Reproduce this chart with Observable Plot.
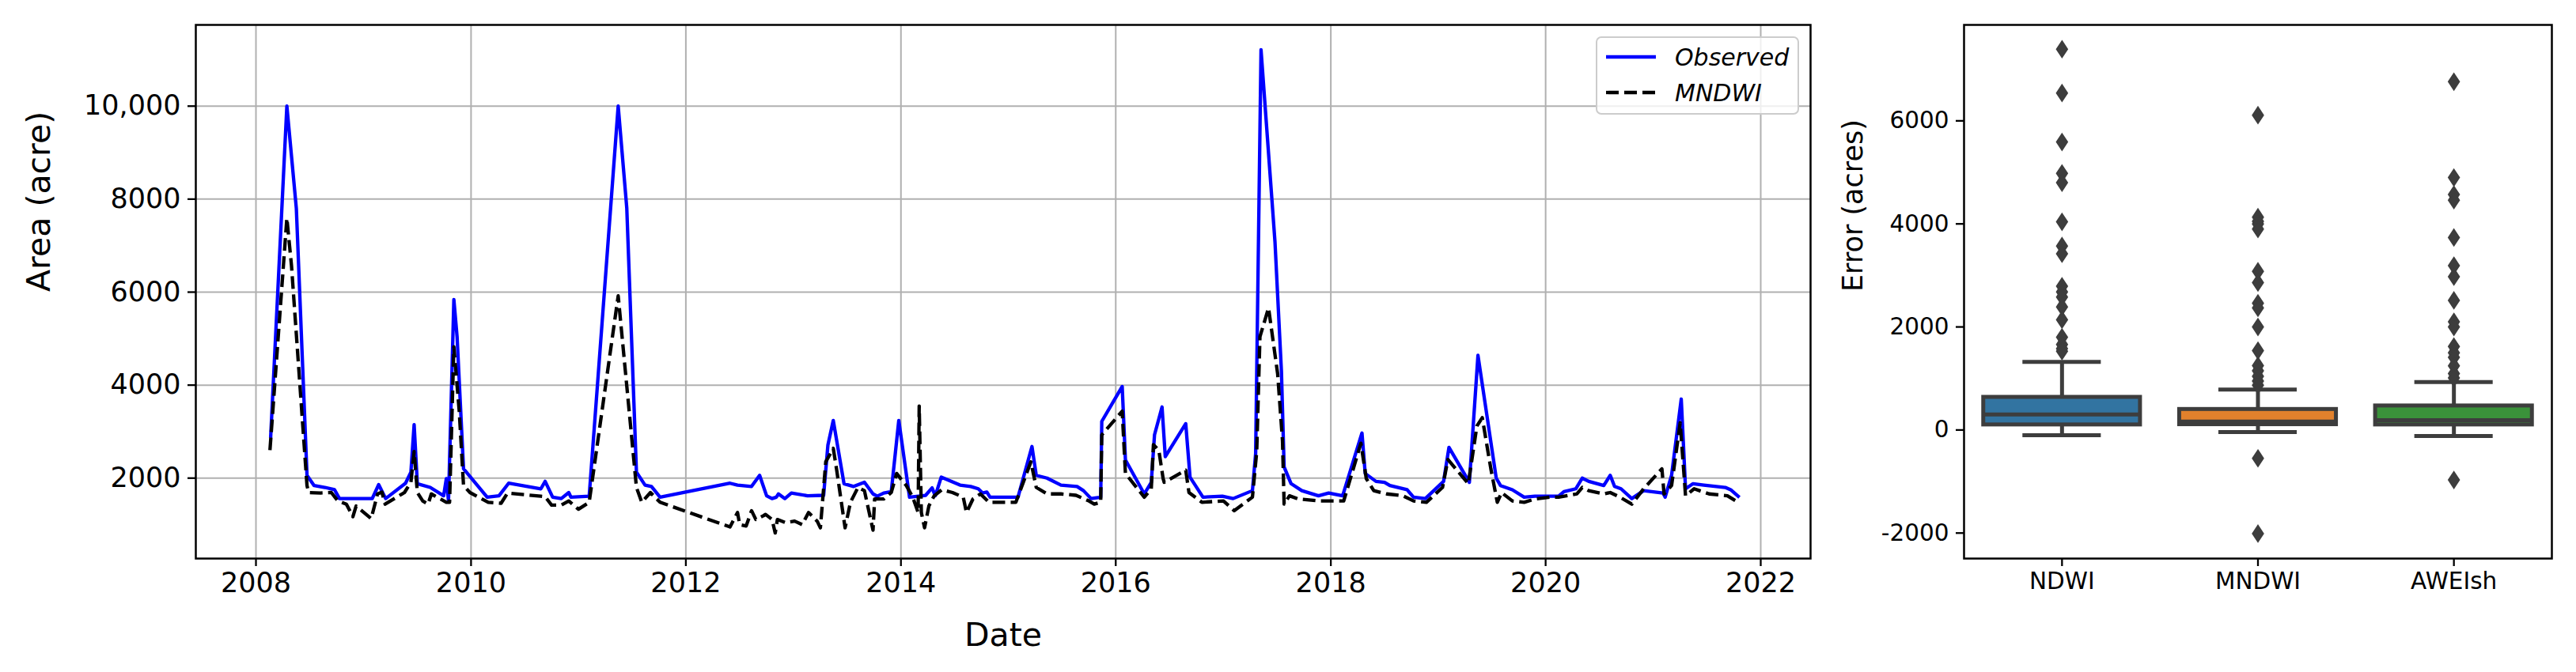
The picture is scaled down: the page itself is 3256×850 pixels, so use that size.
<!DOCTYPE html>
<html><head><meta charset="utf-8">
<script src="https://cdn.jsdelivr.net/npm/d3@7"></script>
<script src="https://cdn.jsdelivr.net/npm/@observablehq/plot@0.6"></script>
<style>
html,body{margin:0;padding:0;background:#fff;}
#wrap{position:relative;width:3256px;height:850px;overflow:hidden;font-family:"DejaVu Sans",sans-serif;background:#fff;}
#left{position:absolute;left:0;top:0;}
#right{position:absolute;left:2300px;top:0;}
#legend{position:absolute;left:2017px;top:46px;}
</style></head><body>
<div id="wrap"><div id="left"></div><div id="right"></div><svg id="legend" width="258" height="100"></svg></div>
<script>
// ---------- Left panel data (decimal year, area in acres) ----------
const seriesNames = ["Observed", "MNDWI"];
const obsYears = [2008.137,2008.287,2008.375,2008.474,2008.54,2008.64,2008.73,2008.775,2009.08,2009.14,2009.205,2009.39,2009.44,2009.47,2009.50,2009.62,2009.745,2009.77,2009.79,2009.84,2009.87,2009.93,2010.15,2010.26,2010.35,2010.65,2010.69,2010.76,2010.84,2010.91,2010.93,2011.10,2011.37,2011.45,2011.54,2011.62,2011.68,2011.76,2012.41,2012.48,2012.61,2012.685,2012.75,2012.80,2012.84,2012.86,2012.92,2012.98,2013.13,2013.28,2013.32,2013.37,2013.47,2013.56,2013.66,2013.74,2013.78,2013.84,2013.91,2013.98,2014.08,2014.23,2014.29,2014.32,2014.375,2014.55,2014.65,2014.72,2014.76,2014.80,2014.83,2015.09,2015.22,2015.26,2015.36,2015.49,2015.64,2015.70,2015.77,2015.86,2015.87,2016.06,2016.09,2016.265,2016.33,2016.36,2016.43,2016.46,2016.65,2016.69,2016.81,2016.99,2017.09,2017.27,2017.30,2017.35,2017.48,2017.54,2017.565,2017.63,2017.73,2017.885,2017.98,2018.11,2018.29,2018.32,2018.42,2018.50,2018.55,2018.71,2018.77,2018.88,2019.05,2019.10,2019.29,2019.37,2019.54,2019.58,2019.69,2019.80,2019.90,2020.04,2020.12,2020.17,2020.28,2020.34,2020.40,2020.54,2020.60,2020.64,2020.70,2020.80,2020.91,2021.09,2021.11,2021.17,2021.26,2021.30,2021.37,2021.47,2021.67,2021.72,2021.79];
const obsArea = [2900,10000,7800,2060,1840,1800,1750,1560,1560,1860,1560,1890,2130,3150,1880,1800,1620,1990,1510,5840,5040,2200,1590,1620,1890,1770,1930,1590,1560,1690,1590,1610,10000,7810,2130,1850,1820,1590,1890,1850,1820,2060,1620,1560,1590,1660,1560,1680,1620,1630,2710,3240,1880,1820,1910,1660,1610,1680,1710,3240,1590,1630,1790,1620,2020,1850,1820,1770,1680,1700,1590,1590,2680,2060,2000,1850,1820,1730,1560,1590,3220,3970,2390,1660,1910,2930,3530,2460,3170,2020,1590,1610,1560,1730,2530,11215,7080,4300,2240,1880,1730,1620,1680,1620,2970,2100,1930,1910,1840,1750,1590,1560,1930,2660,1910,4640,2000,1840,1750,1590,1610,1610,1610,1710,1770,2000,1930,1840,2060,1820,1770,1560,1730,1680,1590,2060,3700,1770,1880,1850,1800,1750,1610];
const mndwiYears = [2008.13,2008.287,2008.33,2008.474,2008.49,2008.60,2008.70,2008.76,2008.84,2008.90,2008.93,2009.07,2009.13,2009.17,2009.20,2009.38,2009.44,2009.47,2009.50,2009.55,2009.60,2009.63,2009.77,2009.80,2009.84,2009.89,2009.93,2009.99,2010.16,2010.28,2010.34,2010.65,2010.69,2010.75,2010.84,2010.91,2011.00,2011.10,2011.37,2011.54,2011.59,2011.67,2011.76,2012.41,2012.48,2012.50,2012.56,2012.61,2012.65,2012.72,2012.74,2012.80,2012.83,2012.85,2012.93,2013.01,2013.08,2013.14,2013.22,2013.25,2013.30,2013.37,2013.40,2013.48,2013.53,2013.60,2013.66,2013.74,2013.755,2013.84,2013.91,2013.96,2014.00,2014.05,2014.11,2014.16,2014.17,2014.19,2014.22,2014.26,2014.31,2014.38,2014.48,2014.58,2014.61,2014.67,2014.74,2014.82,2015.07,2015.21,2015.26,2015.36,2015.49,2015.63,2015.75,2015.80,2015.86,2015.87,2016.06,2016.09,2016.265,2016.33,2016.35,2016.40,2016.44,2016.45,2016.65,2016.68,2016.80,2017.00,2017.10,2017.27,2017.31,2017.34,2017.42,2017.505,2017.55,2017.565,2017.615,2017.70,2017.885,2017.98,2018.12,2018.28,2018.33,2018.40,2018.52,2018.67,2018.77,2018.89,2019.04,2019.09,2019.28,2019.36,2019.41,2019.49,2019.55,2019.59,2019.69,2019.80,2019.90,2020.04,2020.12,2020.29,2020.34,2020.40,2020.54,2020.60,2020.69,2020.80,2020.91,2021.08,2021.10,2021.17,2021.25,2021.30,2021.38,2021.52,2021.69,2021.79];
const mndwiArea = [2600,7590,6570,1840,1690,1680,1690,1510,1440,1170,1400,1130,1660,1700,1440,1690,1910,2570,1690,1510,1440,1660,1480,1480,4825,3440,1840,1690,1480,1460,1680,1610,1600,1420,1420,1510,1330,1480,5920,1800,1480,1690,1480,950,1260,1000,970,1300,1110,1190,1220,1110,820,1110,1040,1075,1000,1260,1075,930,2350,2640,2200,930,1480,1800,1730,880,1550,1550,1690,2100,1980,1840,1590,1260,3550,1260,930,1400,1620,1750,1690,1590,1260,1550,1660,1480,1480,2350,1800,1660,1660,1630,1510,1440,1480,2930,3440,2100,1590,1770,2720,2600,1990,1910,2170,1690,1480,1510,1300,1590,2570,5040,5660,4240,2800,1440,1620,1550,1510,1510,1510,2750,1990,1730,1660,1620,1510,1480,1800,2400,1880,3120,3300,2200,1480,1690,1510,1480,1550,1590,1590,1660,1800,1730,1660,1690,1590,1440,1770,2200,1660,1840,3190,1620,1770,1660,1620,1480];
const xTickYears = [2008,2010,2012,2014,2016,2018,2020,2022];
const yTicksLeft = [2000,4000,6000,8000,10000];

// ---------- Right panel data (error in acres) ----------
const boxCategories = ["NDWI","MNDWI","AWEIsh"];
const boxColors = ["#3274a1","#e1812c","#3a923a"];
const boxQ1 = [100,105,100];
const boxMedian = [300,165,190];
const boxQ3 = [635,400,468];
const whiskerLow = [-100,-40,-115];
const whiskerHigh = [1320,785,930];
const outliersNDWI = [7390,6540,5590,4980,4800,4040,3570,3420,2790,2680,2580,2390,2140,1800,1660,1580,1530];
const outliersMNDWI = [6110,4130,4050,4000,3900,3080,2860,2460,2370,2000,1540,1250,1150,1040,950,870,-550,-2010];
const outliersAWEIsh = [6760,4900,4570,4460,3735,3190,2975,2515,2100,2000,1620,1500,1410,1245,1095,1010,-970];
const yTicksRight = [-2000,0,2000,4000,6000];

// ---------- helpers ----------
const toDate = y => { const yr = Math.floor(y); const a = Date.UTC(yr,0,1), b = Date.UTC(yr+1,0,1); return new Date(a + (y-yr)*(b-a)); };
const obs = obsYears.map((y,i) => ({date: toDate(y), area: obsArea[i]}));
const mndwi = mndwiYears.map((y,i) => ({date: toDate(y), area: mndwiArea[i]}));
const xTicks = xTickYears.map(y => new Date(Date.UTC(y,0,1)));
const font = '"DejaVu Sans", sans-serif';
const gridStyle = {stroke: "#b0b0b0", strokeOpacity: 1, strokeWidth: 2};

const left = Plot.plot({
  width: 2300, height: 850,
  marginLeft: 247, marginRight: 12, marginTop: 31, marginBottom: 144,
  style: {fontFamily: font, background: "white", color: "black", overflow: "visible"},
  x: {type: "utc", domain: [toDate(2007.44), toDate(2022.464)]},
  y: {domain: [270, 11747]},
  marks: [
    Plot.gridX(xTicks, gridStyle),
    Plot.gridY(yTicksLeft, gridStyle),
    Plot.line(obs, {x: "date", y: "area", stroke: "#0000ff", strokeWidth: 4.3, strokeLinejoin: "round", strokeLinecap: "square"}),
    Plot.line(mndwi, {x: "date", y: "area", stroke: "#000000", strokeWidth: 4.3, strokeDasharray: "16,7", strokeLinejoin: "round", strokeLinecap: "butt"}),
    Plot.frame({stroke: "black", strokeWidth: 2.5}),
    Plot.axisX(xTicks, {tickFormat: d => String(d.getUTCFullYear()), tickSize: 10, tickPadding: 8, fontSize: 35, label: null, strokeWidth: 2.3}),
    Plot.axisY(yTicksLeft, {tickFormat: d => d >= 10000 ? d3.format(",")(d) : String(d), tickSize: 10, tickPadding: 9, fontSize: 35, label: null, strokeWidth: 2.3}),
    Plot.text(["Date"], {text: d => d, frameAnchor: "bottom", dy: 110, fontSize: 41}),
    Plot.text(["Area (acre)"], {text: d => d, frameAnchor: "left", dx: -198, rotate: -90, fontSize: 41})
  ]
});
document.getElementById("left").append(left);

const gray = "#3d3d3d";
const boxStats = boxCategories.map((c,i) => ({i, c, color: boxColors[i], q1: boxQ1[i], med: boxMedian[i], q3: boxQ3[i], lo: whiskerLow[i], hi: whiskerHigh[i]}));
const outliers = [outliersNDWI, outliersMNDWI, outliersAWEIsh].flatMap((arr,i) => arr.map(v => ({i, v})));
const thinDiamond = {draw(ctx, size) { const r = Math.sqrt(size/Math.PI); const w = r*0.66; ctx.moveTo(0,-r); ctx.lineTo(w,0); ctx.lineTo(0,r); ctx.lineTo(-w,0); ctx.closePath(); }};
const lineStyle = {stroke: gray, strokeWidth: 5};

const right = Plot.plot({
  width: 956, height: 850,
  marginLeft: 182, marginRight: 31, marginTop: 31, marginBottom: 144,
  style: {fontFamily: font, background: "white", color: "black", overflow: "visible"},
  x: {domain: [-0.5, 2.5]},
  y: {domain: [-2495, 7862]},
  color: {type: "identity"},
  marks: [
    Plot.ruleX(boxStats, {x: "i", y1: "q3", y2: "hi", ...lineStyle}),
    Plot.ruleX(boxStats, {x: "i", y1: "lo", y2: "q1", ...lineStyle}),
    Plot.ruleY(boxStats, {y: "hi", x1: d => d.i - 0.2, x2: d => d.i + 0.2, ...lineStyle}),
    Plot.ruleY(boxStats, {y: "lo", x1: d => d.i - 0.2, x2: d => d.i + 0.2, ...lineStyle}),
    Plot.rect(boxStats, {x1: d => d.i - 0.4, x2: d => d.i + 0.4, y1: "q1", y2: "q3", fill: "color", ...lineStyle}),
    Plot.ruleY(boxStats, {y: "med", x1: d => d.i - 0.4, x2: d => d.i + 0.4, ...lineStyle}),
    Plot.dot(outliers, {x: "i", y: "v", symbol: thinDiamond, r: 10.5, fill: gray, stroke: gray, strokeWidth: 1.5}),
    Plot.frame({stroke: "black", strokeWidth: 2.5}),
    Plot.axisX([0,1,2], {tickFormat: i => boxCategories[i], tickSize: 10, tickPadding: 8, fontSize: 29.5, label: null, strokeWidth: 2.3}),
    Plot.axisY(yTicksRight, {tickFormat: d => d < 0 ? "-" + Math.abs(d) : String(d), tickSize: 10, tickPadding: 9, fontSize: 29.5, label: null, strokeWidth: 2.3}),
    Plot.text(["Error (acres)"], {text: d => d, frameAnchor: "left", dx: -140, rotate: -90, fontSize: 35})
  ]
});
document.getElementById("right").append(right);

// ---------- legend ----------
const lg = d3.select("#legend");
lg.append("rect").attr("x",1).attr("y",1).attr("width",255).attr("height",97).attr("rx",6)
  .attr("fill","white").attr("fill-opacity",0.8).attr("stroke","#cccccc").attr("stroke-width",2);
const legendStyles = [{stroke: "#0000ff", dash: null}, {stroke: "#000000", dash: "16,7"}];
seriesNames.forEach((name, k) => {
  const y = 26 + k*45;
  const ln = lg.append("line").attr("x1",13).attr("x2",76).attr("y1",y).attr("y2",y)
    .attr("stroke", legendStyles[k].stroke).attr("stroke-width",4.3);
  if (legendStyles[k].dash) ln.attr("stroke-dasharray", legendStyles[k].dash);
  lg.append("text").attr("x",100).attr("y",y).attr("dy","0.35em")
    .attr("font-family", font).attr("font-style","italic").attr("font-size",30).attr("fill","black").text(name);
});
</script>
</body></html>
